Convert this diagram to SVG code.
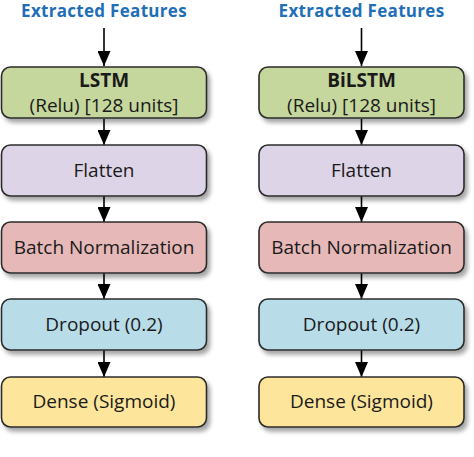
<svg xmlns="http://www.w3.org/2000/svg" width="474" height="457" viewBox="0 0 474 457">
<style>
.title{font-family:"Open Sans","Liberation Sans",sans-serif;font-weight:bold;font-size:17px;letter-spacing:0.3px;fill:#1f6fb8;text-anchor:middle}
.lbl{font-family:"Open Sans","Liberation Sans",sans-serif;font-size:19px;fill:#1a1a1a;text-anchor:middle}
.bold{font-weight:bold}
.box{stroke:#2b2b2b;stroke-width:1.6;filter:url(#sh)}
.conn line{stroke:#000;stroke-width:1.6;marker-end:url(#ah)}
</style>
<defs>
<filter id="sh" x="-10%" y="-20%" width="125%" height="150%">
<feDropShadow dx="3" dy="4" stdDeviation="2" flood-color="#000" flood-opacity="0.35"/>
</filter>
<marker id="ah" markerUnits="userSpaceOnUse" markerWidth="15" markerHeight="13" refX="15" refY="6.5" orient="auto" viewBox="0 0 15 13">
<path d="M0,0 L15,6.5 L0,13 z" fill="#000"/>
</marker>
</defs>
<rect width="474" height="457" fill="#fff"/>
<text class="title" x="104" y="17">Extracted Features</text>
<text class="title" x="361.5" y="17">Extracted Features</text>
<g class="conn">
<line x1="104" y1="28" x2="104" y2="66"/>
<line x1="104" y1="119" x2="104" y2="145"/>
<line x1="104" y1="196" x2="104" y2="222"/>
<line x1="104" y1="273" x2="104" y2="299"/>
<line x1="104" y1="350" x2="104" y2="377"/>
<line x1="361.5" y1="28" x2="361.5" y2="66"/>
<line x1="361.5" y1="119" x2="361.5" y2="145"/>
<line x1="361.5" y1="196" x2="361.5" y2="222"/>
<line x1="361.5" y1="273" x2="361.5" y2="299"/>
<line x1="361.5" y1="350" x2="361.5" y2="377"/>
</g>
<g id="lstm">
<rect class="box" x="1.5" y="67" width="205" height="51" rx="9" fill="#c5d79c"/>
<text class="lbl bold" x="104" y="87">LSTM</text>
<text class="lbl" x="104" y="112">(Relu) [128 units]</text>
</g>
<g id="flatten-l">
<rect class="box" x="1.5" y="145" width="205" height="51" rx="9" fill="#ddd5e7"/>
<text class="lbl" x="104" y="177">Flatten</text>
</g>
<g id="batch-l">
<rect class="box" x="1.5" y="222" width="205" height="51" rx="9" fill="#e6b9b8"/>
<text class="lbl" x="104" y="254">Batch Normalization</text>
</g>
<g id="dropout-l">
<rect class="box" x="1.5" y="299" width="205" height="51" rx="9" fill="#b8dce8"/>
<text class="lbl" x="104" y="331">Dropout (0.2)</text>
</g>
<g id="dense-l">
<rect class="box" x="1.5" y="377" width="205" height="50" rx="9" fill="#fde59b"/>
<text class="lbl" x="104" y="408">Dense (Sigmoid)</text>
</g>
<g id="bilstm">
<rect class="box" x="259" y="67" width="205" height="51" rx="9" fill="#c5d79c"/>
<text class="lbl bold" x="361.5" y="87">BiLSTM</text>
<text class="lbl" x="361.5" y="112">(Relu) [128 units]</text>
</g>
<g id="flatten-r">
<rect class="box" x="259" y="145" width="205" height="51" rx="9" fill="#ddd5e7"/>
<text class="lbl" x="361.5" y="177">Flatten</text>
</g>
<g id="batch-r">
<rect class="box" x="259" y="222" width="205" height="51" rx="9" fill="#e6b9b8"/>
<text class="lbl" x="361.5" y="254">Batch Normalization</text>
</g>
<g id="dropout-r">
<rect class="box" x="259" y="299" width="205" height="51" rx="9" fill="#b8dce8"/>
<text class="lbl" x="361.5" y="331">Dropout (0.2)</text>
</g>
<g id="dense-r">
<rect class="box" x="259" y="377" width="205" height="50" rx="9" fill="#fde59b"/>
<text class="lbl" x="361.5" y="408">Dense (Sigmoid)</text>
</g>
</svg>
